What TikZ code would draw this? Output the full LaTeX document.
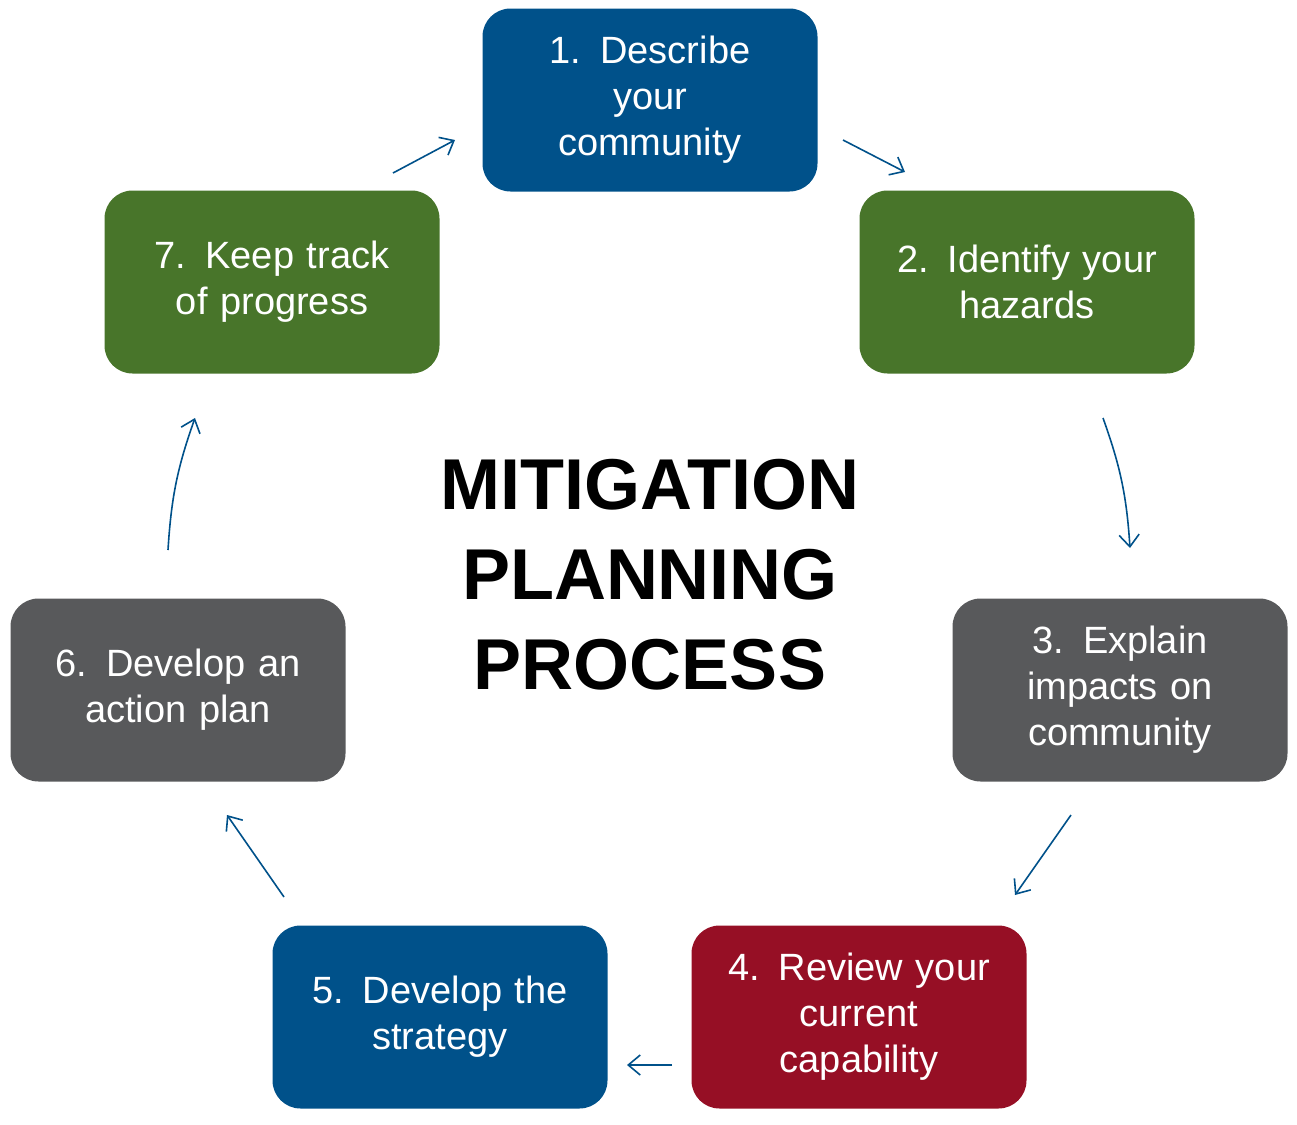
\documentclass[tikz,border=0pt]{standalone}
\usepackage{fontspec}
\setmainfont{Liberation Sans}
\usetikzlibrary{arrows.meta}
\definecolor{stepblue}{HTML}{00518A}
\definecolor{stepgreen}{HTML}{48752A}
\definecolor{stepgray}{HTML}{58595B}
\definecolor{stepred}{HTML}{960F25}
\tikzset{
  stepbox/.style={rounded corners=14pt, minimum width=167.5pt, minimum height=91.5pt,
    text width=150pt, align=center, text=white, font=\fontsize{19}{23}\selectfont},
  cyc/.style={draw=stepblue, line width=0.8pt, -{Straight Barb[length=6pt,width=10pt]}}
}
\begin{document}
\begin{tikzpicture}[x=0.5pt,y=-0.5pt]
  \useasboundingbox (0,0) rectangle (1297,1125);
  % the seven steps
  \node[stepbox, fill=stepblue]  (s1) at (650,100)  {1. Describe\\ your\\ community};
  \node[stepbox, fill=stepgreen] (s2) at (1027,282) {2. Identify your\\ hazards};
  \node[stepbox, fill=stepgray]  (s3) at (1120,690) {3. Explain\\ impacts on\\ community};
  \node[stepbox, fill=stepred]   (s4) at (859,1017) {4. Review your\\ current\\ capability};
  \node[stepbox, fill=stepblue]  (s5) at (440,1017) {5. Develop the\\ strategy};
  \node[stepbox, fill=stepgray]  (s6) at (178,690)  {6. Develop an\\ action plan};
  \node[stepbox, fill=stepgreen] (s7) at (272,282)  {7. Keep track\\ of progress};
  % title
  \node[align=center, font=\bfseries\fontsize{36}{45}\selectfont] (title) at (650,575)
    {MITIGATION\\ PLANNING\\ PROCESS};
  % arrow ends
  \coordinate (a1) at (843,140);  \coordinate (b1) at (905,172);
  \coordinate (a2) at (1103,418); \coordinate (b2) at (1130,548);
  \coordinate (a3) at (1071,815); \coordinate (b3) at (1015,895);
  \coordinate (a4) at (672,1065); \coordinate (b4) at (627,1065);
  \coordinate (a5) at (284,897);  \coordinate (b5) at (227,815);
  \coordinate (a6) at (168,550);  \coordinate (b6) at (195,418);
  \coordinate (a7) at (393,173);  \coordinate (b7) at (455,140);
  \draw[cyc] (a1) -- (b1);
  \draw[cyc] (a2) to[bend left=8] (b2);
  \draw[cyc] (a3) -- (b3);
  \draw[cyc] (a4) -- (b4);
  \draw[cyc] (a5) -- (b5);
  \draw[cyc] (a6) to[bend left=8] (b6);
  \draw[cyc] (a7) -- (b7);
\end{tikzpicture}
\end{document}
